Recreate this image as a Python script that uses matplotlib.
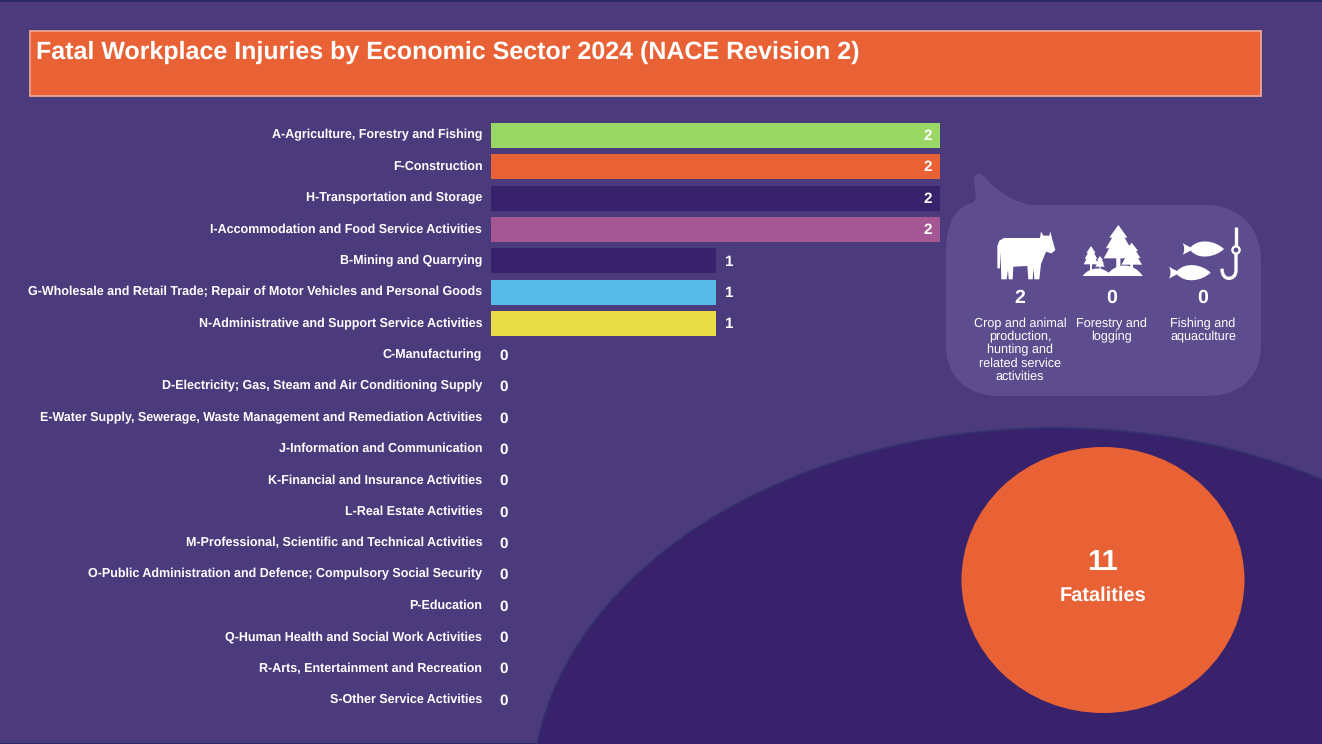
import matplotlib
matplotlib.use("Agg")
import matplotlib.pyplot as plt
from matplotlib.patches import Ellipse, PathPatch, Polygon, Rectangle, Circle
from matplotlib.path import Path
from matplotlib.transforms import ScaledTranslation

W, H = 1322, 744

BG = "#4b3a7c"
DARK = "#38226b"
ORANGE = "#e86236"
BUBBLE = "#5e4d8e"
WHITE = "#ffffff"

sectors = [
    "A-Agriculture, Forestry and Fishing",
    "F-Construction",
    "H-Transportation and Storage",
    "I-Accommodation and Food Service Activities",
    "B-Mining and Quarrying",
    "G-Wholesale and Retail Trade; Repair of Motor Vehicles and Personal Goods",
    "N-Administrative and Support Service Activities",
    "C-Manufacturing",
    "D-Electricity; Gas, Steam and Air Conditioning Supply",
    "E-Water Supply, Sewerage, Waste Management and Remediation Activities",
    "J-Information and Communication",
    "K-Financial and Insurance Activities",
    "L-Real Estate Activities",
    "M-Professional, Scientific and Technical Activities",
    "O-Public Administration and Defence; Compulsory Social Security",
    "P-Education",
    "Q-Human Health and Social Work Activities",
    "R-Arts, Entertainment and Recreation",
    "S-Other Service Activities",
]
fatalities = [2, 2, 2, 2, 1, 1, 1, 0, 0, 0, 0, 0, 0, 0, 0, 0, 0, 0, 0]
bar_colors = ["#9bd765", ORANGE, DARK, "#a55793", DARK, "#55bae6", "#e8dd45"] + [DARK] * 12

agri_values = [2, 0, 0]
agri_labels = [
    "Crop and animal\nproduction,\nhunting and\nrelated service\nactivities",
    "Forestry and\nlogging",
    "Fishing and\naquaculture",
]
total_fatalities = 11

plt.rcParams["font.family"] = ["Liberation Sans", "DejaVu Sans"]
plt.rcParams["font.weight"] = "bold"
plt.rcParams["text.hinting"] = "none"

fig = plt.figure(figsize=(W / 100, H / 100), dpi=100, facecolor=BG)

# background layer in pixel coordinates, y pointing down
bg = fig.add_axes([0, 0, 1, 1], zorder=0)
bg.set_xlim(0, W)
bg.set_ylim(H, 0)
bg.axis("off")

bg.add_patch(Rectangle((0, 0), W, 1.5, fc="#2c2a66", ec="none"))
bg.add_patch(Rectangle((0, H - 1.5), W, 1.5, fc="#2c2a66", ec="none"))

bg.add_patch(Ellipse((1055, 795), 1046, 734, fc=DARK, ec="#33316e", lw=1.2))
bg.add_patch(Ellipse((1103, 580), 283, 266, fc=ORANGE, ec="none"))

bg.add_patch(Rectangle((29.5, 30.5), 1231, 65.5, fc=ORANGE, ec="#eba592", lw=1.3))
bg.text(36, 52, "Fatal Workplace Injuries by Economic Sector 2024 (NACE Revision 2)",
        color=WHITE, fontsize=18.0, va="center", ha="left")

# speech bubble behind the agriculture breakdown
M, L, C4, Z = Path.MOVETO, Path.LINETO, Path.CURVE4, Path.CLOSEPOLY
bubble = Path(
    [(1030, 205), (1205, 205),
     (1240, 205), (1261, 228), (1261, 262),
     (1261, 345),
     (1261, 378), (1240, 396), (1205, 396),
     (1000, 396),
     (968, 396), (946, 378), (946, 345),
     (946, 250),
     (946, 225), (955, 207), (972, 203),
     (978, 200), (975, 190), (974, 183),
     (973, 172), (980, 172), (985, 177),
     (995, 190), (1010, 200), (1030, 205),
     (1030, 205)],
    [M, L, C4, C4, C4, L, C4, C4, C4, L, C4, C4, C4, L,
     C4, C4, C4, C4, C4, C4, C4, C4, C4, C4, C4, C4, Z],
)
bg.add_patch(PathPatch(bubble, fc=BUBBLE, ec="none"))


def zp(points):
    # icon outlines are written on a 3x grid anchored at the bubble corner
    return [(940 + x / 3, 170 + y / 3) for x, y in points]


def icon_poly(points):
    bg.add_patch(Polygon(zp(points), closed=True, fc=WHITE, ec="none"))


# cow
icon_poly([(172, 295), (172, 228), (178, 212), (192, 204), (300, 204), (303, 184), (310, 197),
           (328, 197), (331, 184), (336, 205), (346, 240), (335, 250), (318, 245), (303, 282),
           (298, 328), (283, 328), (281, 295), (278, 328), (265, 328), (262, 288), (220, 290),
           (218, 328), (206, 328), (204, 300), (200, 328), (184, 328), (182, 245), (180, 295)])


def tree(cx, top, half, base, trunk):
    h = base - top
    icon_poly([(cx, top), (cx + half * 0.62, top + h * 0.38), (cx + half * 0.42, top + h * 0.38),
               (cx + half * 0.85, top + h * 0.7), (cx + half * 0.62, top + h * 0.7),
               (cx + half, base), (cx + half * 0.14, base), (cx + half * 0.14, trunk),
               (cx - half * 0.14, trunk), (cx - half * 0.14, base), (cx - half, base),
               (cx - half * 0.62, top + h * 0.7), (cx - half * 0.85, top + h * 0.7),
               (cx - half * 0.42, top + h * 0.38), (cx - half * 0.62, top + h * 0.38)])


def hump(x0, x1, top, base):
    verts = zp([(x0, base), (x0 + (x1 - x0) * 0.25, top), (x0 + (x1 - x0) * 0.75, top), (x1, base), (x1, base)])
    bg.add_patch(PathPatch(Path(verts, [M, C4, C4, C4, Z]), fc=WHITE, ec="none"))


# trees on two hills
tree(535, 165, 44, 265, 295)
tree(575, 218, 31, 284, 295)
tree(453, 228, 22, 283, 305)
tree(480, 258, 14, 290, 305)
hump(428, 515, 288, 318)
hump(498, 608, 276, 318)


def fish(x0, x1, yc):
    verts = zp([(x1, yc),
                (x1 - 25, yc - 24), (x1 - 75, yc - 34), (x0 + 24, yc - 5),
                (x0 + 14, yc - 10), (x0 + 6, yc - 14), (x0, yc - 18),
                (x0 + 6, yc - 8), (x0 + 6, yc + 8), (x0, yc + 18),
                (x0 + 6, yc + 14), (x0 + 14, yc + 10), (x0 + 24, yc + 5),
                (x1 - 75, yc + 34), (x1 - 25, yc + 24), (x1, yc),
                (x1, yc)])
    bg.add_patch(PathPatch(Path(verts, [M] + [C4] * 15 + [Z]), fc=WHITE, ec="none"))


# two fish and a hook
fish(728, 852, 237)
fish(687, 812, 308)
bg.add_patch(PathPatch(Path(zp([(888, 170), (888, 230)])), fc="none", ec=WHITE, lw=2.4))
hook = Path(zp([(888, 250), (888, 300), (888, 318), (877, 325), (867, 325),
                (855, 325), (846, 316), (846, 296)]),
            [M, L, C4, C4, C4, C4, C4, C4])
bg.add_patch(PathPatch(hook, fc="none", ec=WHITE, lw=2.4))
bg.add_patch(Circle(zp([(888, 240)])[0], 3.6, fc=BUBBLE, ec=WHITE, lw=1.7))

# breakdown numbers and captions
for cx, val, lab in zip([1020, 1111.5, 1203], agri_values, agri_labels):
    bg.text(cx, 298, str(val), color=WHITE, fontsize=14, ha="center", va="center")
    bg.text(cx, 317.5, lab, color=WHITE, fontsize=9.1, ha="center", va="top",
            linespacing=1.13, fontweight="normal")

bg.text(1103, 562, str(total_fatalities), color=WHITE, fontsize=21, ha="center", va="center")
bg.text(1103, 595.5, "Fatalities", color=WHITE, fontsize=14.4, ha="center", va="center")

# bar chart: 2 fatalities span 491..940 px, rows are 31.35 px apart
row = 31.35
top_px = 135.5 - row / 2
ax = fig.add_axes([491 / W, 1 - (top_px + row * 19) / H, 449 / W, row * 19 / H],
                  facecolor="none", zorder=1)
rows = list(range(len(sectors)))
ax.barh(rows, fatalities, height=25 / row, color=bar_colors, linewidth=0)
ax.set_xlim(0, 2)
ax.set_ylim(18.5, -0.5)
ax.set_yticks(rows)
ax.set_yticklabels(sectors, color=WHITE, fontsize=9.0)
ax.tick_params(axis="y", length=0, pad=6.3)
ax.set_xticks([])
for s in ax.spines.values():
    s.set_visible(False)

# sector names sit a little above the bar centres
up = ScaledTranslation(0, 1.5 / 100, fig.dpi_scale_trans)
for label in ax.get_yticklabels():
    label.set_transform(label.get_transform() + up)

for i, v in enumerate(fatalities):
    if v == 2:
        ax.text(v - 0.038, i + 0.02, str(v), color=WHITE, fontsize=11, ha="right", va="center")
    else:
        ax.text(v + 0.036, i + 0.03, str(v), color=WHITE, fontsize=11, ha="left", va="center")

fig.savefig("out.png", dpi=100, facecolor=BG)
